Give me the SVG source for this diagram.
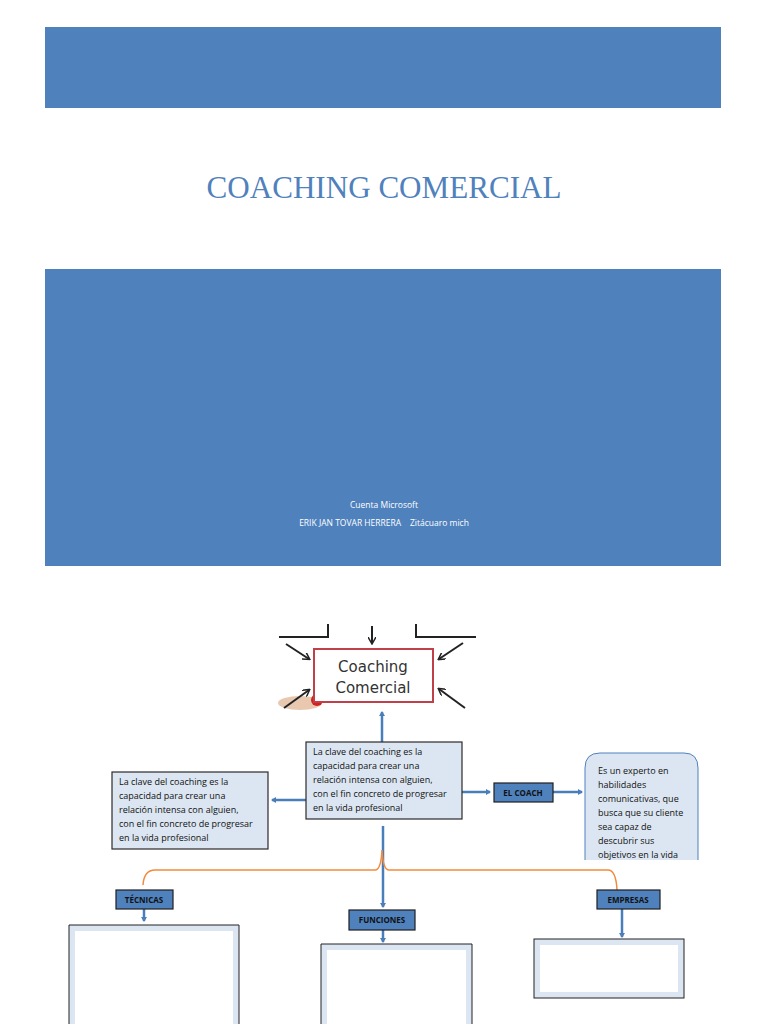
<svg xmlns="http://www.w3.org/2000/svg" width="768" height="1024" viewBox="0 0 768 1024">
<style>
.band{fill:#4f81bd}
.box{fill:#dce6f2;stroke:#2b2b2b;stroke-width:1.2}
.lbl{fill:#4f81bd;stroke:#1f1f1f;stroke-width:1.2}
.t{font-family:"Open Sans","Liberation Sans",sans-serif;font-size:9px;fill:#111}
.lt{font-family:"Open Sans","Liberation Sans",sans-serif;font-size:8px;font-weight:bold;fill:#111;text-anchor:middle}
.conn{stroke:#4a7ebb;stroke-width:2.5;fill:none}
.empty{fill:#fff;stroke:#dce6f2;stroke-width:6}
.emptyo{fill:none;stroke:#222;stroke-width:1}
.sk{stroke:#222;stroke-width:2;fill:none}
</style>
<defs>
<marker id="a" markerWidth="6" markerHeight="6" refX="4" refY="3" orient="auto" markerUnits="userSpaceOnUse"><path d="M0,0 L5,3 L0,6 z" fill="#4a7ebb"/></marker>
<marker id="k" markerWidth="8" markerHeight="8" refX="6" refY="4" orient="auto" markerUnits="userSpaceOnUse"><path d="M0,0 L7,4 L0,8" fill="none" stroke="#222" stroke-width="1.5"/></marker>
</defs>
<rect width="768" height="1024" fill="#fff"/>
<rect class="band" x="45" y="27" width="676" height="81"/>
<text x="384" y="198" text-anchor="middle" font-family="Liberation Serif,serif" font-size="31" fill="#4f81bd" textLength="355" lengthAdjust="spacingAndGlyphs">COACHING COMERCIAL</text>
<rect class="band" x="45" y="269" width="676" height="297"/>
<text x="384" y="508" text-anchor="middle" font-family="Open Sans,Liberation Sans,sans-serif" font-size="8.5" fill="#fff">Cuenta Microsoft</text>
<text x="384" y="526" text-anchor="middle" font-family="Open Sans,Liberation Sans,sans-serif" font-size="8.5" fill="#fff" xml:space="preserve">ERIK JAN TOVAR HERRERA    Zitácuaro mich</text>

<g id="image">
<path class="sk" d="M279,637 H328 V624"/>
<path class="sk" d="M476,637 H416 V624"/>
<path class="sk" d="M372,626 V643" marker-end="url(#k)"/>
<path class="sk" d="M286,644 L309,659" marker-end="url(#k)"/>
<path class="sk" d="M463,643 L439,659" marker-end="url(#k)"/>
<path class="sk" d="M465,708 L439,689" marker-end="url(#k)"/>
<ellipse cx="300" cy="703" rx="22" ry="7" fill="#e8c9b0"/>
<circle cx="317" cy="700" r="6" fill="#d42020"/>
<path class="sk" d="M284,708 L309,690" marker-end="url(#k)"/>
<rect x="314" y="649" width="119" height="53" fill="#fff" stroke="#c0404a" stroke-width="2"/>
<text x="373" y="672" text-anchor="middle" font-family="DejaVu Sans,sans-serif" font-size="15" fill="#333">Coaching</text>
<text x="373" y="693" text-anchor="middle" font-family="DejaVu Sans,sans-serif" font-size="15" fill="#333">Comercial</text>
</g>

<g id="connectors">
<path class="conn" d="M382,742 V712" marker-end="url(#a)"/>
<path class="conn" d="M306,800 H272" marker-end="url(#a)"/>
<path class="conn" d="M462,792 H490" marker-end="url(#a)"/>
<path class="conn" d="M553,792 H582" marker-end="url(#a)"/>
<path class="conn" d="M383,826 V907" marker-end="url(#a)"/>
<path d="M143,885 Q144,870 155,870 H375 Q381,870 382,850 Q383,870 389,870 H608 Q616,870 617,890" fill="none" stroke="#f28a3c" stroke-width="1.5"/>
<path class="conn" d="M144,908 V921" marker-end="url(#a)"/>
<path class="conn" d="M383,930 V942" marker-end="url(#a)"/>
<path class="conn" d="M622,908 V937" marker-end="url(#a)"/>
</g>

<g id="center">
<rect class="box" x="306" y="742" width="156" height="77"/>
<text class="t" x="313" y="755">La clave del coaching es la</text>
<text class="t" x="313" y="769">capacidad para crear una</text>
<text class="t" x="313" y="783">relación intensa con alguien,</text>
<text class="t" x="313" y="797">con el fin concreto de progresar</text>
<text class="t" x="313" y="811">en la vida profesional</text>
</g>
<g id="left">
<rect class="box" x="112" y="772" width="156" height="77"/>
<text class="t" x="119" y="785">La clave del coaching es la</text>
<text class="t" x="119" y="799">capacidad para crear una</text>
<text class="t" x="119" y="813">relación intensa con alguien,</text>
<text class="t" x="119" y="827">con el fin concreto de progresar</text>
<text class="t" x="119" y="841">en la vida profesional</text>
</g>
<g id="elcoach">
<rect class="lbl" x="494" y="783" width="59" height="19"/>
<text class="lt" x="523" y="796">EL COACH</text>
</g>
<g id="coachdesc">
<path d="M585,860 V768 Q585,753 600,753 H684 Q698,753 698,768 V860" fill="#dce6f2" stroke="#4f81bd" stroke-width="1"/>
<text class="t" x="598" y="774">Es un experto en</text>
<text class="t" x="598" y="788">habilidades</text>
<text class="t" x="598" y="802">comunicativas, que</text>
<text class="t" x="598" y="816">busca que su cliente</text>
<text class="t" x="598" y="830">sea capaz de</text>
<text class="t" x="598" y="844">descubrir sus</text>
<text class="t" x="598" y="858">objetivos en la vida</text>
</g>
<g id="tecnicas">
<rect class="lbl" x="116" y="890" width="57" height="19"/>
<text class="lt" x="144" y="903">TÉCNICAS</text>
</g>
<g id="funciones">
<rect class="lbl" x="349" y="910" width="66" height="20"/>
<text class="lt" x="382" y="923">FUNCIONES</text>
</g>
<g id="empresas">
<rect class="lbl" x="597" y="890" width="63" height="19"/>
<text class="lt" x="628" y="903">EMPRESAS</text>
</g>
<g id="tecnicas-box">
<rect class="empty" x="72" y="928" width="164" height="100"/>
<path class="emptyo" d="M69,1030 V925 H239 V1030"/>
</g>
<g id="funciones-box">
<rect class="empty" x="324" y="947" width="145" height="80"/>
<path class="emptyo" d="M321,1030 V944 H472 V1030"/>
</g>
<g id="empresas-box">
<rect class="empty" x="537" y="942" width="144" height="53"/>
<rect class="emptyo" x="534" y="939" width="150" height="59"/>
</g>
</svg>
